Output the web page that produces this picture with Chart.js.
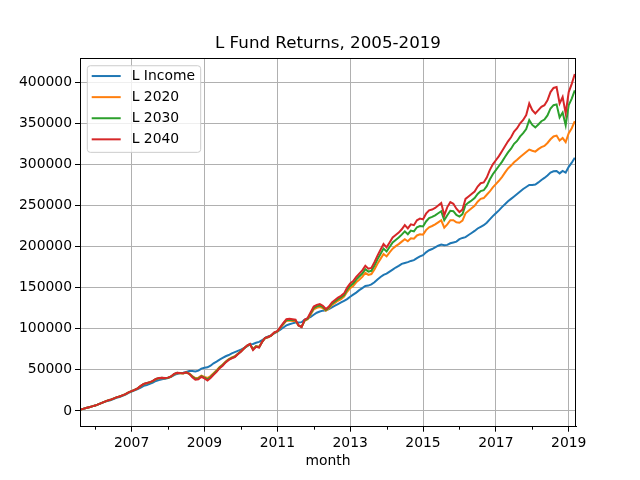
<!DOCTYPE html>
<html>
<head>
<meta charset="utf-8">
<title>L Fund Returns, 2005-2019</title>
<script src="https://cdn.jsdelivr.net/npm/chart.js@4.4.1/dist/chart.umd.min.js"></script>
<style>
html, body { margin: 0; padding: 0; background: #fff; }
</style>
</head>
<body>
<canvas id="chart" width="640" height="480"></canvas>
<script>
// monthly balances in thousands, Aug 2005 .. Mar 2019
var lIncome = [
  1.5, 2.5, 3.5, 4.5, 5.5, 6.5, 8, 9.5, 11, 12,
  13, 14.5, 16, 17, 18.5, 20, 22, 23.5, 25, 26.5,
  28.5, 30.5, 31.5, 33, 34.5, 36.5, 37.5, 38.5, 39, 40,
  41.5, 43.5, 45, 46, 46.5, 47.5, 48.5, 48.5, 48, 49,
  51.5, 52.5, 53, 55, 58, 60, 62.5, 64.5, 66.5, 68,
  70, 71.5, 73, 74.5, 76.5, 78.5, 81, 81.5, 83, 84,
  86, 89, 90.5, 92, 94.5, 96.5, 99, 101.5, 104, 105.5,
  106.5, 107.5, 107.5, 108, 111, 112.5, 114.5, 117, 119.5, 121,
  122, 122.5, 124, 126, 128, 130, 132, 134, 136, 139,
  141.5, 144, 147, 149.5, 152, 152.5, 154, 156.5, 160, 163,
  165.5, 167, 169.5, 172, 174.5, 176.5, 179, 180, 181, 182.5,
  183.5, 186, 188, 189.5, 193, 195.5, 197, 199, 201, 202.5,
  201.5, 202, 204, 205, 206, 209, 210.5, 211.5, 214, 216.5,
  219, 222, 224, 226, 229, 233, 237, 240.5, 244, 248,
  251.5, 255, 258, 261, 264, 267, 270, 272.5, 275, 275,
  275.5, 278, 281, 283.5, 286.5, 290, 291.5, 292, 289, 292,
  290, 297, 302, 308
];
var l2020 = [
  1.5, 2.5, 3.5, 4.5, 5.5, 6.5, 8, 9.5, 11, 12.5,
  13.5, 15, 16.5, 17.5, 19, 20.5, 22.5, 24, 25.5, 27.5,
  30.2, 32.6, 33.6, 34.7, 36.2, 38.6, 39.6, 40.1, 39.7, 40.2,
  41.8, 44.6, 46, 45.7, 45.6, 46.6, 45.5, 42.5, 40, 40.5,
  43, 41.5, 40, 42.5, 46, 49.5, 53.5, 56.5, 60, 63,
  65, 66.5, 69.5, 72.5, 76, 79, 81, 75.5, 79, 78,
  84, 88.5, 89.5, 91.5, 95, 96.5, 101, 105.5, 109.5, 110,
  109.5, 109.5, 104, 102.5, 109.5, 111.5, 117.5, 123.5, 125.5, 126.5,
  125, 122, 124.5, 129, 131.5, 134, 136, 139, 145, 149.5,
  152, 156.5, 159.5, 163, 168, 165.5, 166.5, 172, 179, 185,
  191, 188, 193, 197.5, 200.5, 203, 206, 209, 206.5, 210,
  209.5, 213.5, 215, 214.5, 220, 223.5, 225, 227, 229.5, 232,
  223, 227, 232, 232, 229.5, 229, 231.5, 240.5, 243.5, 246.5,
  249.5, 254.5, 258, 259, 263, 267, 272, 276, 280, 284.5,
  290, 295, 298.5, 302.5, 305.5, 309, 312, 315, 318, 316.5,
  315.5, 318.5, 321, 322.5, 326, 330.5, 334, 335, 329, 332,
  327, 338, 344, 352.5
];
var l2030 = [
  1.5, 2.5, 3.5, 4.5, 5.5, 6.5, 8, 9.5, 11, 12.5,
  13.5, 15, 16.5, 17.5, 19, 20.5, 22.5, 24, 25.5, 27.5,
  30.3, 32.8, 33.8, 34.8, 36.3, 38.8, 39.8, 40.3, 39.8, 40.3,
  41.9, 44.8, 46.3, 45.8, 45.7, 46.8, 45.2, 41.8, 39, 39.5,
  42.2, 40.5, 38.5, 41.2, 45, 48.5, 52.8, 55.8, 59.5, 62.5,
  64.5, 66, 69.2, 72.2, 76, 79.2, 81.2, 74.8, 78.5, 77.5,
  84, 88.8, 89.8, 91.8, 95.2, 96.8, 101.5, 106.2, 110.5, 111,
  110.5, 110.2, 104, 102.2, 110.2, 112.2, 118.8, 125.2, 127.2, 128.2,
  126.5, 123, 125.8, 130.5, 133.2, 136, 138, 141, 147.5, 152.2,
  155, 159.8, 163.5, 167.2, 172.5, 169.5, 170.5, 176.8, 184.5, 191,
  197.5, 194, 199.5, 205, 208, 211, 214.5, 218.5, 215, 219.5,
  218.5, 223.5, 225, 224.5, 230.5, 234.5, 236, 238, 240.5, 243,
  232, 238, 243.5, 243, 238.5, 236.5, 239.5, 250.5, 253.5, 256,
  259, 264, 267.5, 268.5, 273.5, 281.5, 288, 293, 298, 303,
  309, 314.5, 319, 325, 328.5, 334, 338, 343, 354, 348,
  345, 348.5, 352.5, 354.5, 359.5, 368, 372, 373, 357, 363,
  347.5, 372, 380, 390
];
var l2040 = [
  1.5, 2.5, 3.5, 4.5, 5.5, 6.5, 8, 9.5, 11, 12.5,
  13.5, 15, 16.5, 17.5, 19, 20.5, 22.5, 24, 25.5, 27.5,
  30.5, 33, 34, 35, 36.5, 39, 40, 40.5, 40, 40.5,
  42, 45, 46.5, 46, 45.8, 47, 45, 41, 38, 38.5,
  41.5, 39.5, 37, 40, 44, 47.5, 52, 55, 59, 62,
  64, 65.5, 69, 72, 76, 79.5, 81.5, 74, 78, 77,
  84, 89, 90, 92, 95.5, 97, 102, 107, 111.5, 112,
  111.5, 111, 104, 102, 111, 113, 120, 127, 129, 130,
  128, 124, 127, 132, 135, 138, 140, 143, 150, 155,
  158, 163, 167, 171, 176.5, 173, 174, 181, 189, 196,
  203, 199, 205, 211, 214, 217, 221, 226, 222, 227,
  226, 232, 234, 233, 240, 244, 245, 247, 250, 253,
  238, 248, 254, 252, 246, 242, 245, 258, 261, 264,
  267, 273, 277, 278, 284, 293, 300, 305, 310, 316,
  322, 328, 333, 340, 344, 350, 354, 360, 374, 366,
  362, 366, 370, 372, 378, 388, 393, 394, 374, 382,
  362, 388, 398, 410
];

var seriesNames = ['L Income', 'L 2020', 'L 2030', 'L 2040'];
var seriesColors = ['#1f77b4', '#ff7f0e', '#2ca02c', '#d62728'];
var yearTicks = [2007, 2009, 2011, 2013, 2015, 2017, 2019];
var minorYearTicks = [2006, 2008, 2010, 2012, 2014, 2016, 2018];
var valueTicks = [0, 50000, 100000, 150000, 200000, 250000, 300000, 350000, 400000];

// month categories, first one is 2005-08
var months = [];
for (var i = 0; i < lIncome.length; i++) {
  var yr = 2005 + Math.floor((7 + i) / 12);
  var mo = (7 + i) % 12 + 1;
  months.push(yr + '-' + (mo < 10 ? '0' : '') + mo);
}

function monthToYear(label) {
  var parts = label.split('-');
  return +parts[0] + (parts[1] - 1) / 12;
}

function toPoints(values) {
  return values.map(function (v, i) {
    return { x: monthToYear(months[i]), y: v * 1000 };
  });
}

var FONT = 'DejaVu Sans';
Chart.defaults.font.family = FONT;
Chart.defaults.font.size = 13.9;
Chart.defaults.color = '#000';

// box around the axes, minor x ticks and the legend inside the plot
var framePlugin = {
  id: 'frame',
  afterDraw: function (chart) {
    var ctx = chart.ctx, a = chart.chartArea, xs = chart.scales.x;
    ctx.save();
    ctx.strokeStyle = '#000';
    ctx.lineWidth = 1;
    ctx.strokeRect(Math.round(a.left) + 0.5, Math.round(a.top) + 0.5,
      Math.round(a.right - a.left) - 1, Math.round(a.bottom - a.top));
    minorYearTicks.forEach(function (y) {
      var px = Math.round(xs.getPixelForValue(y)) + 0.5;
      ctx.beginPath();
      ctx.moveTo(px, a.bottom);
      ctx.lineTo(px, a.bottom + 3);
      ctx.stroke();
    });

    var lx = a.left + 7.3, ly = a.top + 7.4, lw = 113.4, lh = 86.6, r = 3;
    ctx.beginPath();
    ctx.moveTo(lx + r, ly);
    ctx.arcTo(lx + lw, ly, lx + lw, ly + lh, r);
    ctx.arcTo(lx + lw, ly + lh, lx, ly + lh, r);
    ctx.arcTo(lx, ly + lh, lx, ly, r);
    ctx.arcTo(lx, ly, lx + lw, ly, r);
    ctx.closePath();
    ctx.fillStyle = 'rgba(255,255,255,0.8)';
    ctx.fill();
    ctx.strokeStyle = '#cccccc';
    ctx.stroke();

    ctx.font = '13.9px "' + FONT + '"';
    ctx.textBaseline = 'middle';
    chart.data.datasets.forEach(function (ds, i) {
      var cy = ly + 10.3 + i * 21.1;
      ctx.strokeStyle = ds.borderColor;
      ctx.lineWidth = 2;
      ctx.beginPath();
      ctx.moveTo(lx + 4.4, cy);
      ctx.lineTo(lx + 33.4, cy);
      ctx.stroke();
      ctx.fillStyle = '#000';
      ctx.fillText(ds.label, lx + 44.4, cy);
    });
    ctx.restore();
  }
};

var ctx = document.getElementById('chart').getContext('2d');
var allSeries = [lIncome, l2020, l2030, l2040];

var myChart = new Chart(ctx, {
  type: 'line',
  data: {
    datasets: allSeries.map(function (values, i) {
      return {
        label: seriesNames[i],
        data: toPoints(values),
        borderColor: seriesColors[i],
        backgroundColor: seriesColors[i],
        borderWidth: 2,
        pointRadius: 0,
        fill: false,
        tension: 0,
        order: allSeries.length - i
      };
    })
  },
  options: {
    responsive: false,
    animation: false,
    // left padding + empty right axis keep the title centred over the plot
    layout: { padding: { left: 16, right: 0, top: 0, bottom: 0 } },
    plugins: {
      legend: { display: false },
      tooltip: { enabled: false },
      title: {
        display: true,
        text: 'L Fund Returns, 2005-2019',
        color: '#000',
        font: { size: 16.7, weight: 'normal' },
        padding: { top: 33.5, bottom: 4.8 }
      }
    },
    scales: {
      x: {
        type: 'linear',
        min: monthToYear(months[0]),
        max: 2019.2,
        afterBuildTicks: function (s) {
          s.ticks = yearTicks.map(function (v) { return { value: v }; });
        },
        afterFit: function (s) { s.height = 53.3; },
        ticks: {
          autoSkip: false,
          maxRotation: 0,
          padding: 3,
          callback: function (v) { return String(v); }
        },
        grid: { color: '#b0b0b0', tickColor: '#000', tickLength: 5, lineWidth: 1 },
        border: { color: '#000' },
        title: { display: true, text: 'month', padding: { top: 0, bottom: 10 } }
      },
      y: {
        min: -19200,
        max: 429000,
        afterBuildTicks: function (s) {
          s.ticks = valueTicks.map(function (v) { return { value: v }; });
        },
        afterFit: function (s) { s.width = 64; },
        ticks: {
          padding: 3,
          callback: function (v) { return String(v); }
        },
        grid: { color: '#b0b0b0', tickColor: '#000', tickLength: 5, lineWidth: 1 },
        border: { color: '#000' }
      },
      yRight: {
        position: 'right',
        afterFit: function (s) { s.width = 64; },
        ticks: { display: false },
        grid: { display: false },
        border: { display: false }
      }
    }
  },
  plugins: [framePlugin]
});
</script>
</body>
</html>
